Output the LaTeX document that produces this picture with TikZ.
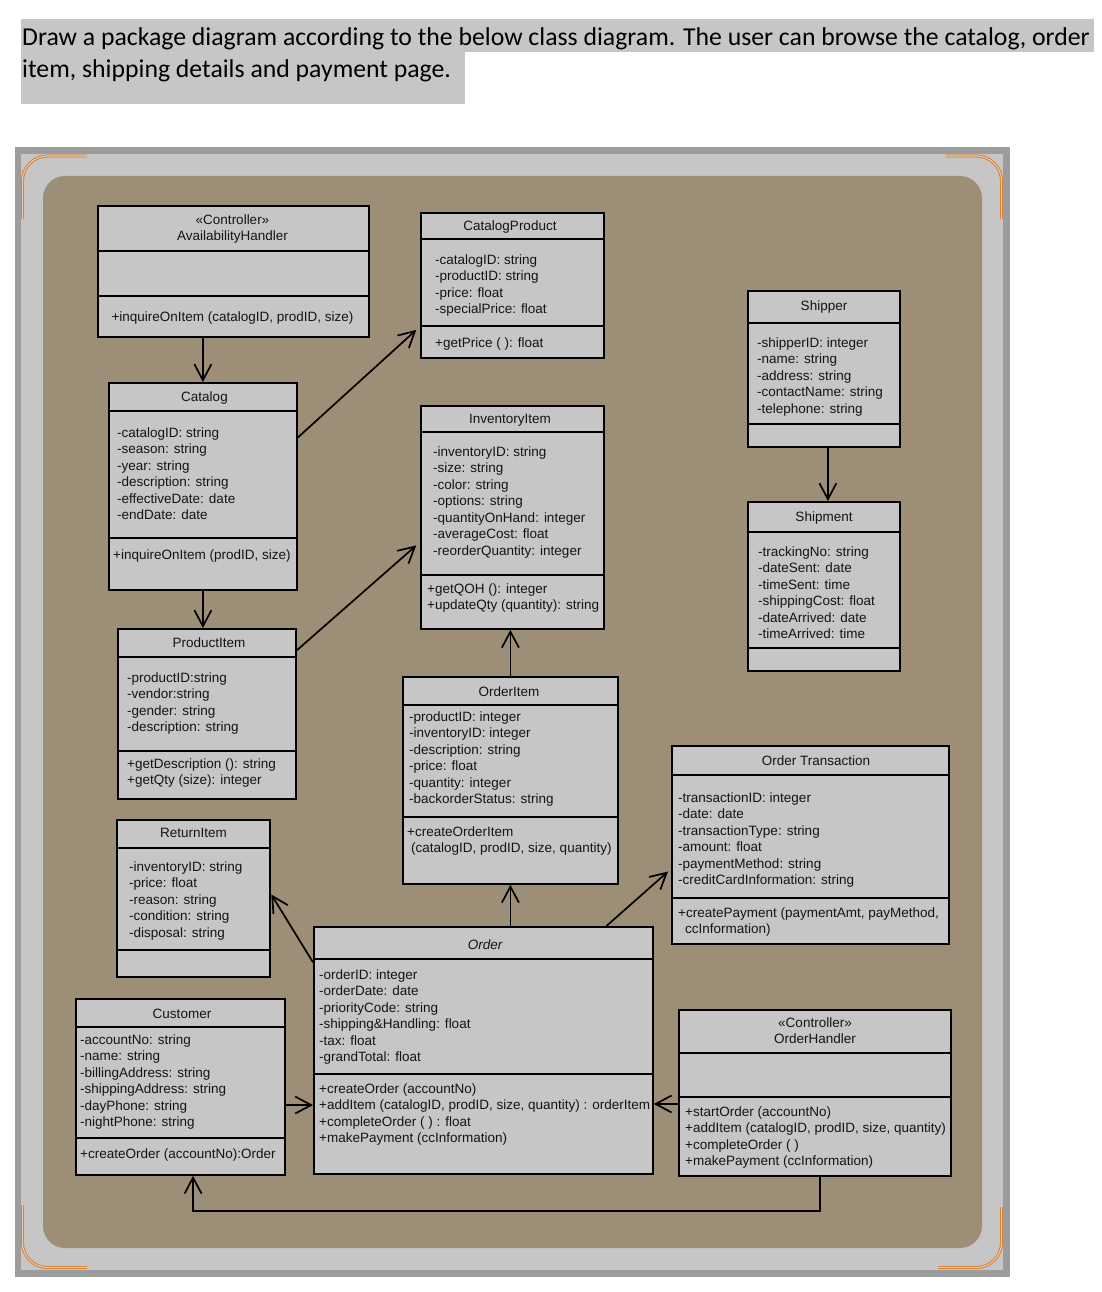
\documentclass[tikz,border=0pt]{standalone}
\usepackage{fontspec}
\setmainfont{Liberation Sans}
\newfontfamily\titlefont{Carlito}
\usetikzlibrary{arrows.meta,calc}
\definecolor{brownbg}{HTML}{9D8E78}
\definecolor{boxfill}{HTML}{C6C6C6}
\definecolor{framelight}{HTML}{C6C6C6}
\definecolor{framedark}{HTML}{9C9C9C}
\definecolor{orng}{HTML}{D27A2C}
\definecolor{txtc}{HTML}{141414}
\tikzset{
  umlbox/.style={draw=black, line width=1.8pt, fill=boxfill, rectangle, inner sep=0pt, anchor=north west},
  sepline/.style={draw=black, line width=1.8pt},
  txtst/.style={inner sep=0pt, font=\fontsize{13.5}{16}\selectfont, text=txtc},
  titlest/.style={inner sep=0pt, font=\titlefont\fontsize{25.75}{30}\selectfont, text=black},
  assoc/.style={draw=black, line width=1.7pt, -{Straight Barb[length=16pt,width=17pt]}},
  cornerdeco/.style={draw=orng, line width=0.9pt, double=orng!40!white, double distance=1.1pt, rounded corners=25pt},
}
\newcommand\umlclass[6]{%
  \node[umlbox, minimum width=#4pt-#2pt, minimum height=#5pt-#3pt] (#1) at (#2,#3) {};
  \foreach \ys in {#6} {\draw[sepline] (#1.west |- 0,\ys) -- (#1.east |- 0,\ys);}
}
\newcommand\umltext[5]{%
  \foreach \s [count=\i from 0] in {#5} {\node[txtst, anchor=#4] (#1-\i) at (#2,#3+\i*16.45) {\s};}
}
\begin{document}
\begin{tikzpicture}[x=1pt,y=-1pt]
\useasboundingbox (0,0) rectangle (1101,1292);
\fill[white] (0,0) rectangle (1101,1292);
% title
\fill[boxfill] (21,19) rectangle (1094,52);
\fill[boxfill] (21,52) rectangle (465,104);
\node[titlest, anchor=base west] (title1) at (22,45.5) {Draw a package diagram according to the below class diagram. The user can browse the catalog, order};
\node[titlest, anchor=base west] (title2) at (22,78) {item, shipping details and payment page.};
% frame
\fill[framedark] (15,147) rectangle (1010,1277);
\fill[framelight] (21,154) rectangle (1003,1270);
\fill[brownbg, rounded corners=22pt] (43,176) rectangle (982,1248);
\draw[cornerdeco] (22.5,219) -- (22.5,156) -- (87,156);
\draw[cornerdeco] (946,156) -- (1001.5,156) -- (1001.5,219);
\draw[cornerdeco] (22.5,1205) -- (22.5,1267.5) -- (87,1267.5);
\draw[cornerdeco] (938,1267.5) -- (1001.5,1267.5) -- (1001.5,1207);
% classes
\umlclass{avail}{97}{205}{368}{336}{251,296}
\umltext{availt}{232.5}{224.5}{base}{«Controller»,AvailabilityHandler}
\umltext{availm}{232.5}{321}{base}{{+inquireOnItem (catalogID, prodID, size)}}

\umlclass{catprod}{420}{212}{603}{357}{239,326}
\umltext{catprodt}{510}{230.5}{base}{CatalogProduct}
\umltext{catproda}{435}{264.5}{base west}{-catalogID: string,-productID: string,-price: float,-specialPrice: float}
\umltext{catprodm}{435}{347.5}{base west}{{+getPrice ( ): float}}

\umlclass{shipper}{747}{290}{899}{446}{323,424}
\umltext{shippert}{824}{310.5}{base}{Shipper}
\umltext{shippera}{757}{347.5}{base west}{-shipperID: integer,-name: string,-address: string,-contactName: string,-telephone: string}

\umlclass{shipment}{747}{501}{899}{670}{532,648}
\umltext{shipmentt}{824}{521.5}{base}{Shipment}
\umltext{shipmenta}{758}{556.5}{base west}{-trackingNo: string,-dateSent: date,-timeSent: time,-shippingCost: float,-dateArrived: date,-timeArrived: time}

\umlclass{catalog}{108}{382}{296}{589}{411,538}
\umltext{catalogt}{204.5}{401.5}{base}{Catalog}
\umltext{cataloga}{117}{437.5}{base west}{-catalogID: string,-season: string,-year: string,-description: string,-effectiveDate: date,-endDate: date}
\umltext{catalogm}{113}{559.5}{base west}{{+inquireOnItem (prodID, size)}}

\umlclass{pitem}{117}{628}{295}{798}{657,751}
\umltext{pitemt}{209}{647.5}{base}{ProductItem}
\umltext{pitema}{127}{682.5}{base west}{-productID:string,-vendor:string,-gender: string,-description: string}
\umltext{pitemm}{127}{768.5}{base west}{{+getDescription (): string},{+getQty (size): integer}}

\umlclass{invitem}{420}{405}{603}{628}{432,575}
\umltext{invitemt}{510}{423.5}{base}{InventoryItem}
\umltext{invitema}{433}{456.5}{base west}{-inventoryID: string,-size: string,-color: string,-options: string,-quantityOnHand: integer,-averageCost: float,-reorderQuantity: integer}
\umltext{invitemm}{427}{593.5}{base west}{{+getQOH (): integer},{+updateQty (quantity): string}}

\umlclass{orderitem}{402}{676}{617}{883}{705,817}
\umltext{orderitemt}{509}{696.5}{base}{OrderItem}
\umltext{orderitema}{409}{721.5}{base west}{-productID: integer,-inventoryID: integer,-description: string,-price: float,-quantity: integer,-backorderStatus: string}
\umltext{orderitemm}{407}{836.5}{base west}{+createOrderItem}
\umltext{orderitemn}{411}{852.5}{base west}{{(catalogID, prodID, size, quantity)}}

\umlclass{ordertrans}{671}{745}{948}{943}{775,898}
\umltext{ordertranst}{816}{765.5}{base}{Order Transaction}
\umltext{ordertransa}{678}{802.5}{base west}{-transactionID: integer,-date: date,-transactionType: string,-amount: float,-paymentMethod: string,-creditCardInformation: string}
\umltext{ordertransm}{678}{917}{base west}{{+createPayment (paymentAmt, payMethod,}}
\umltext{ordertransn}{685}{933}{base west}{ccInformation)}

\umlclass{retitem}{116}{819}{269}{976}{848,950}
\umltext{retitemt}{193.5}{837.5}{base}{ReturnItem}
\umltext{retitema}{129}{871.5}{base west}{-inventoryID: string,-price: float,-reason: string,-condition: string,-disposal: string}

\umlclass{order}{313}{926}{652}{1173}{959,1074}
\umltext{ordert}{485}{949.5}{base}{{\itshape Order}}
\umltext{ordera}{319}{979.5}{base west}{-orderID: integer,-orderDate: date,-priorityCode: string,-shipping\&Handling: float,-tax: float,-grandTotal: float}
\umltext{orderm}{319}{1093.5}{base west}{{+createOrder (accountNo)},{+addItem (catalogID, prodID, size, quantity) : orderItem},{+completeOrder ( ) : float},{+makePayment (ccInformation)}}

\umlclass{customer}{75}{998}{284}{1174}{1027,1138}
\umltext{customert}{182}{1018.5}{base}{Customer}
\umltext{customera}{80}{1044.5}{base west}{-accountNo: string,-name: string,-billingAddress: string,-shippingAddress: string,-dayPhone: string,-nightPhone: string}
\umltext{customerm}{80}{1158.5}{base west}{{+createOrder (accountNo):Order}}

\umlclass{ohandler}{678}{1009}{950}{1175}{1053,1097}
\umltext{ohandlert}{815}{1027.5}{base}{«Controller»,OrderHandler}
\umltext{ohandlerm}{685}{1116.5}{base west}{{+startOrder (accountNo)},{+addItem (catalogID, prodID, size, quantity)},{+completeOrder ( )},{+makePayment (ccInformation)}}

% connectors
\draw[assoc] (avail.south -| catalog.north) -- (catalog.north);
\draw[assoc] (catalog.south) -- (catalog.south |- pitem.north);
\draw[assoc, shorten >=5pt] ($(catalog.north east)!0.266!(catalog.south east)$) -- ($(catprod.north west)!0.78!(catprod.south west)$);
\draw[assoc, shorten >=5pt] ($(pitem.north east)!0.13!(pitem.south east)$) -- ($(invitem.north west)!0.61!(invitem.south west)$);
\coordinate (s1) at ($(shipper.south west)!0.526!(shipper.south east)$);
\draw[assoc] (s1) -- (s1 |- shipment.north);
\draw[assoc] (orderitem.north) -- (orderitem.north |- invitem.south);
\draw[assoc] (order.north -| orderitem.south) -- (orderitem.south);
\draw[assoc, shorten >=4pt] ($(order.north west)!0.861!(order.north east)$) -- ($(ordertrans.north west)!0.62!(ordertrans.south west)$);
\draw[assoc, shorten >=1pt] ($(order.north west)!0.146!(order.south west)$) -- ($(retitem.north east)!0.47!(retitem.south east)$);
\coordinate (c1) at ($(customer.north east)!0.602!(customer.south east)$);
\draw[assoc] (c1) -- (c1 -| order.west);
\coordinate (h1) at ($(ohandler.north west)!0.566!(ohandler.south west)$);
\draw[assoc] (h1) -- (h1 -| order.east);
\coordinate (h2) at ($(ohandler.south west)!0.518!(ohandler.south east)$);
\coordinate (c2) at ($(customer.south west)!0.56!(customer.south east)$);
\draw[assoc] (h2) -- ++(0,34) -| (c2);
\end{tikzpicture}
\end{document}
